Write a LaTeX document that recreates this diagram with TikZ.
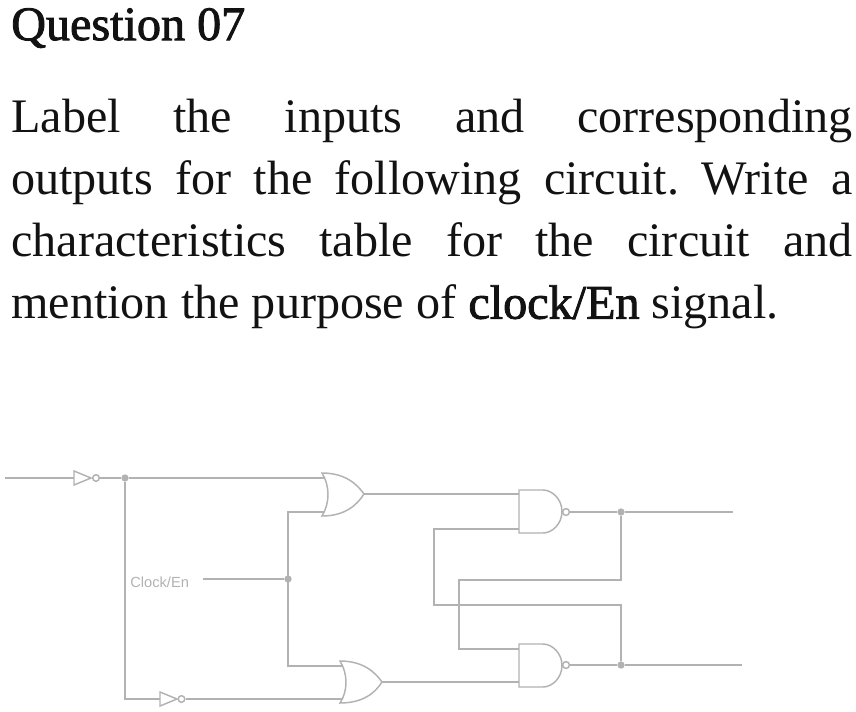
\documentclass[tikz,border=0pt]{standalone}
\usepackage{fontspec}
\setmainfont{Liberation Serif}
\newfontfamily\labelfont{Liberation Sans}
\newfontfamily\fakebold[FakeBold=1.8]{Liberation Serif}
\definecolor{wire}{gray}{0.70}
\definecolor{ink}{gray}{0.07}
\frenchspacing
\tikzset{
  wireline/.style={draw=wire,line width=2pt},
  gateline/.style={draw=wire,line width=1.1pt},
  junction/.style={circle,fill=wire,draw=none,inner sep=0pt,minimum size=5.5pt},
  bodytext/.style={anchor=north west,inner sep=0pt,text=ink,align=justify,text width=631pt,font=\fontsize{36.1pt}{46.5pt}\selectfont},
  titletext/.style={anchor=west,inner sep=0pt,text=ink,font=\fontsize{36.1pt}{40pt}\selectfont\fakebold},
  cliptext/.style={anchor=west,inner sep=0pt,text=wire,font=\labelfont\fontsize{11pt}{12pt}\selectfont}
}
\begin{document}
\begin{tikzpicture}[x=0.75pt,y=-0.75pt]
\useasboundingbox (0,0) rectangle (856,711);
\node[titletext] (title) at (11,28) {Question 07};
\node[bodytext] (body) at (11,99) {Label the inputs and corresponding\linebreak outputs for the following circuit. Write a\linebreak characteristics table for the circuit and\linebreak mention the purpose of {\fakebold clock/En} signal.\par};
\node[cliptext] (clk) at (130,582) {Clock/En};
% named points
\coordinate (in) at (5,478);
\coordinate (invA) at (74,478);
\coordinate (invAout) at (100,478);
\node[junction] (j1) at (125,478) {};
\coordinate (orAa) at (324,478);
\coordinate (orAb) at (324,512);
\coordinate (orAout) at (364,494);
\coordinate (clkend) at (203,579);
\node[junction] (j2) at (288,579) {};
\coordinate (c1) at (288,512);
\coordinate (c2) at (288,666);
\coordinate (c3) at (125,699);
\coordinate (invB) at (160,699);
\coordinate (invBout) at (186,699);
\coordinate (orBa) at (342,666);
\coordinate (orBb) at (342,699);
\coordinate (orBout) at (382,682);
\coordinate (nAa) at (519,494);
\coordinate (nAb) at (519,529);
\coordinate (nAout) at (570,512);
\coordinate (outA) at (733,512);
\node[junction] (j3) at (621,512) {};
\coordinate (nBa) at (519,649);
\coordinate (nBb) at (519,682);
\coordinate (nBout) at (570,665);
\coordinate (outB) at (742,665);
\node[junction] (j4) at (621,665) {};
\coordinate (fa1) at (621,580);
\coordinate (fa2) at (459,580);
\coordinate (fa3) at (459,649);
\coordinate (fb1) at (434,529);
\coordinate (fb2) at (434,605);
\coordinate (fb3) at (621,605);
% wires
\draw[wireline] (in) -- (invA);
\draw[wireline] (invAout) -- (j1) -- (orAa);
\draw[wireline] (j1) -- (c3) -- (invB);
\draw[wireline] (invBout) -- (orBb);
\draw[wireline] (clkend) -- (j2);
\draw[wireline] (orAb) -- (c1) -- (c2) -- (orBa);
\draw[wireline] (orAout) -- (nAa);
\draw[wireline] (orBout) -- (nBb);
\draw[wireline] (nAout) -- (j3) -- (outA);
\draw[wireline] (nBout) -- (j4) -- (outB);
\draw[wireline] (j3) -- (fa1) -- (fa2) -- (fa3) -- (nBa);
\draw[wireline] (nAb) -- (fb1) -- (fb2) -- (fb3) -- (j4);
% inverters
\draw[gateline] (74,471) -- (91,478) -- (74,485) -- cycle;
\draw[gateline] (96,478) circle (3.3);
\draw[gateline] (160,692) -- (177,699) -- (160,706) -- cycle;
\draw[gateline] (181.5,699) circle (3.3);
% OR gates
\draw[gateline,fill=white] (322,473) .. controls (345,473) and (357,484) .. (364,494) .. controls (357,505) and (345,516) .. (322,516) .. controls (330,503) and (330,486) .. (322,473) -- cycle;
\draw[gateline,fill=white] (340,661) .. controls (363,661) and (375,672) .. (382,682) .. controls (375,693) and (363,703) .. (340,703) .. controls (348,691) and (348,674) .. (340,661) -- cycle;
% NAND gates
\draw[gateline,fill=white] (519,490) -- (543,490) .. controls (552,490) and (562,499) .. (562,511.5) .. controls (562,524) and (552,533) .. (543,533) -- (519,533) -- cycle;
\draw[gateline,fill=white] (566,512) circle (3.4);
\draw[gateline,fill=white] (519,644) -- (543,644) .. controls (552,644) and (562,653) .. (562,665.5) .. controls (562,678) and (552,687) .. (543,687) -- (519,687) -- cycle;
\draw[gateline,fill=white] (566,665) circle (3.4);
\end{tikzpicture}
\end{document}
